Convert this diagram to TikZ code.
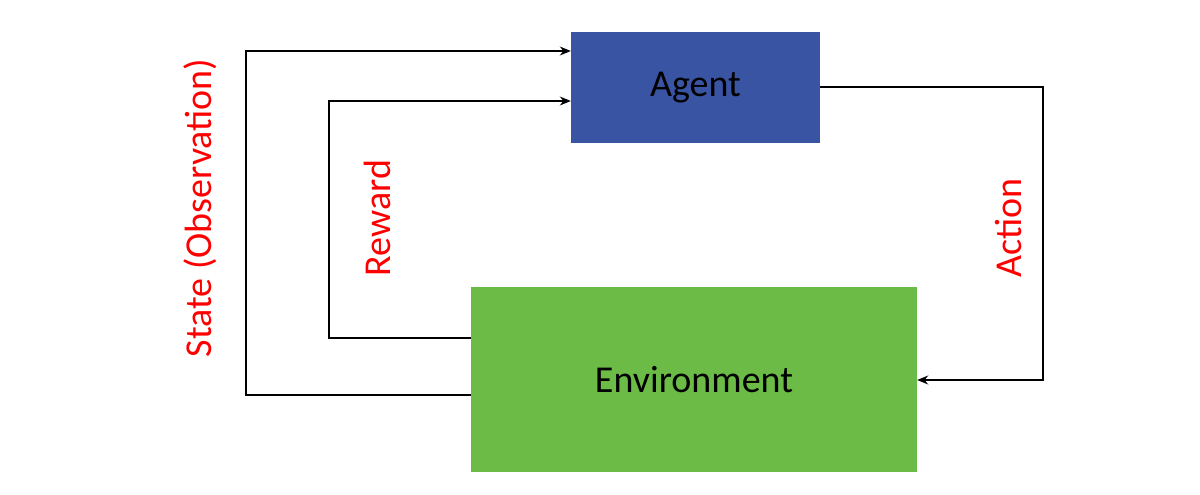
\documentclass[tikz,border=0pt]{standalone}
\usepackage{fontspec}
\setmainfont{Carlito}
\usetikzlibrary{arrows.meta}
\definecolor{agentblue}{HTML}{3A54A4}
\definecolor{envgreen}{HTML}{6CBB46}
\begin{document}
\begin{tikzpicture}[x=1pt,y=-1pt,
  conn/.style={line width=1.3pt,-{Stealth[length=11pt,width=9pt]}},
  lbl/.style={text=red,font=\fontsize{38}{40}\selectfont,rotate=90},
  boxtxt/.style={font=\fontsize{38}{40}\selectfont,text=black}]
\useasboundingbox (0,0) rectangle (1200,495);
\node[fill=agentblue,minimum width=249pt,minimum height=111pt,inner sep=0pt,boxtxt] (agent) at (695.5,87.5) {Agent};
\node[fill=envgreen,minimum width=446pt,minimum height=185pt,inner sep=0pt,boxtxt] (env) at (694,379.5) {Environment};
\coordinate (s1) at (246,395);
\coordinate (s2) at (246,51);
\coordinate (r1) at (329,338);
\coordinate (r2) at (329,101);
\coordinate (a1) at (1043,87);
\coordinate (a2) at (1043,380);
\draw[conn] (env.west |- s1) -- (s1) -- (s2) -- (agent.west |- s2);
\draw[conn] (env.west |- r1) -- (r1) -- (r2) -- (agent.west |- r2);
\draw[conn] (agent.east |- a1) -- (a1) -- (a2) -- (env.east |- a2);
\node[lbl] (state) at (200,208) {State (Observation)};
\node[lbl] (reward) at (377,218) {Reward};
\node[lbl] (action) at (1008,228) {Action};
\end{tikzpicture}
\end{document}
